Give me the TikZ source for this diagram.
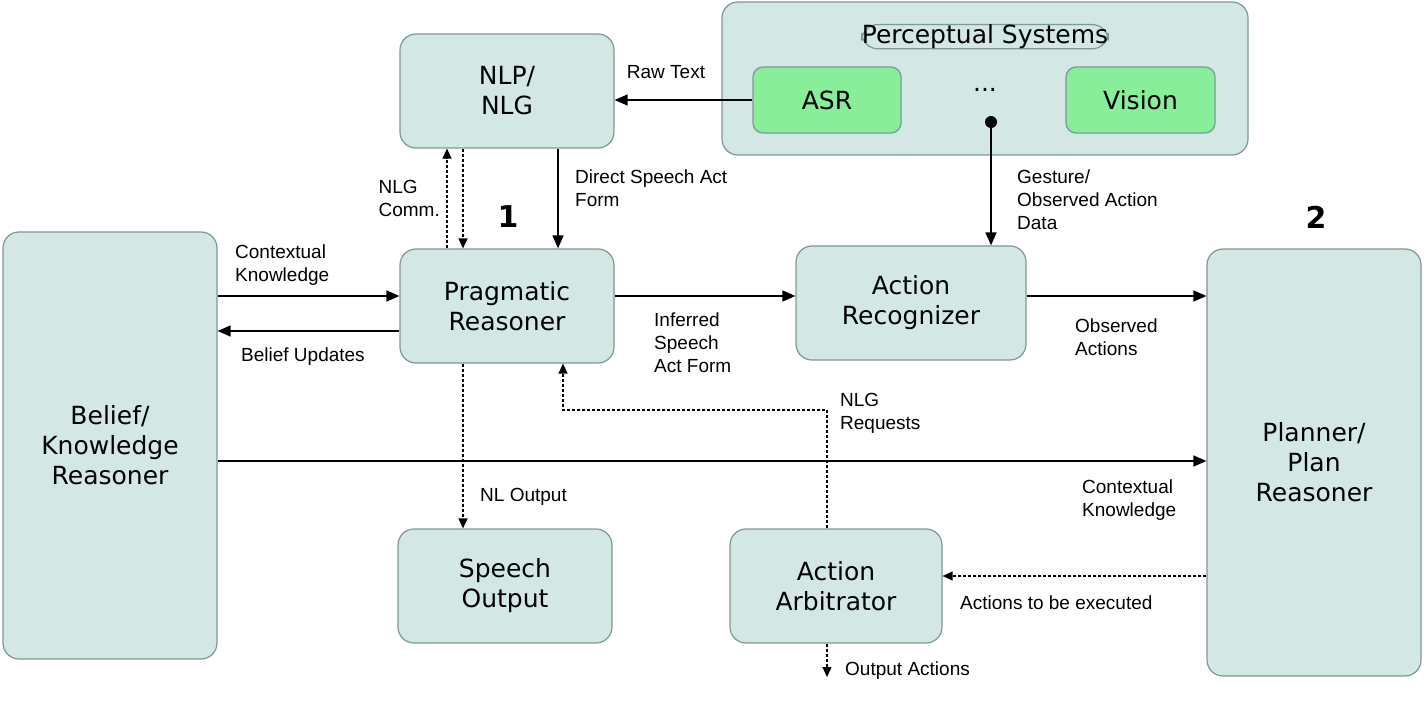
\documentclass[tikz,border=0pt]{standalone}
\usepackage{fontspec}
\setmainfont{Liberation Sans}
\newfontfamily\boxfont{DejaVu Sans}
\usetikzlibrary{arrows.meta}
\definecolor{boxfill}{HTML}{D3E8E4}
\definecolor{boxline}{HTML}{7E9895}
\definecolor{grn}{HTML}{88EE99}
\begin{document}
\begin{tikzpicture}[x=1pt,y=-1pt,
  box/.style={draw=boxline,line width=1.2pt,fill=boxfill,rounded corners=16pt,align=center,
    font=\boxfont\fontsize{25}{30}\selectfont,inner sep=0pt},
  gbox/.style={box,fill=grn,rounded corners=10pt},
  lbl/.style={font=\fontsize{19}{23}\selectfont,align=left,inner sep=0pt},
  arr/.style={line width=1.6pt,-{Triangle[length=13pt,width=11pt]}},
  darr/.style={arr,dash pattern=on 3pt off 2pt,line width=1.3pt,-{Triangle[length=10pt,width=9pt]}}]
\useasboundingbox (0,0) rectangle (1426,703);
\node[box,minimum width=526,minimum height=153] (ps) at (985,78.5) {};
\node[box,anchor=north] (pst) at (985,24) {Perceptual Systems};
\node[gbox,minimum width=148,minimum height=66] (asr) at (827,100) {ASR};
\node[gbox,minimum width=149,minimum height=66] (vis) at (1140.5,100) {Vision};
\node[font=\boxfont\fontsize{25}{30}\selectfont,inner sep=0pt] (dots) at (985,90) {...};
\fill (991,122) circle (6pt);
\coordinate (dot) at (991,122);
\node[box,minimum width=214,minimum height=114] (nlp) at (507,91) {NLP/\\NLG};
\node[box,minimum width=214,minimum height=114] (prag) at (507,306) {Pragmatic\\Reasoner};
\node[box,minimum width=230,minimum height=114] (ar) at (911,303) {Action\\Recognizer};
\node[box,minimum width=214,minimum height=427] (bel) at (110,445.5) {Belief/\\Knowledge\\Reasoner};
\node[box,minimum width=214,minimum height=427] (plan) at (1314,462.5) {Planner/\\Plan\\Reasoner};
\node[box,minimum width=214,minimum height=114] (so) at (505,586) {Speech\\Output};
\node[box,minimum width=212,minimum height=114] (aa) at (836,586) {Action\\Arbitrator};
\node[font=\boxfont\bfseries\fontsize{30}{36}\selectfont] (n1) at (508,217) {1};
\node[font=\boxfont\bfseries\fontsize{30}{36}\selectfont] (n2) at (1316,217) {2};
% arrows
\draw[arr] (asr.west) -- (nlp.east |- asr.west);
\node[lbl] at (666,72) {Raw Text};
\draw[darr] (prag.north -| 447,0) -- (nlp.south -| 447,0);
\draw[darr] (nlp.south -| 463,0) -- (prag.north -| 463,0);
\node[lbl,anchor=east] at (440,198) {NLG\\Comm.};
\draw[arr] (nlp.south -| 558,0) -- (prag.north -| 558,0);
\node[lbl,anchor=west] at (575,188) {Direct Speech Act\\Form};
\draw[arr] (dot) -- (ar.north -| dot);
\node[lbl,anchor=west] at (1017,200) {Gesture/\\Observed Action\\Data};
\draw[arr] (bel.east |- 0,296) -- (prag.west |- 0,296);
\node[lbl,anchor=west] at (235,265) {Contextual\\Knowledge};
\draw[arr] (prag.west |- 0,331) -- (bel.east |- 0,331);
\node[lbl,anchor=west] at (241,357) {Belief Updates};
\draw[arr] (prag.east |- 0,296) -- (ar.west |- 0,296);
\node[lbl,anchor=west] at (654,343) {Inferred\\Speech\\Act Form};
\draw[arr] (ar.east |- 0,296) -- (plan.west |- 0,296);
\node[lbl,anchor=west] at (1075,337) {Observed\\Actions};
\draw[arr] (bel.east |- 0,461) -- (plan.west |- 0,461);
\node[lbl,anchor=west] at (1082,500) {Contextual\\Knowledge};
\draw[darr] (prag.south -| 463,0) -- (so.north -| 463,0);
\node[lbl,anchor=west] at (480,497) {NL Output};
\draw[darr] (plan.west |- 0,576) -- (aa.east |- 0,576);
\node[lbl,anchor=west] at (960,603) {Actions to be executed};
\draw[darr] (aa.north -| 827,0) -- (827,410) -- (563,410) -- (prag.south -| 563,0);
\node[lbl,anchor=west] at (840,413) {NLG\\Requests};
\coordinate (out) at (827,677);
\draw[darr] (aa.south -| 827,0) -- (out);
\node[lbl,anchor=west] at (845,671) {Output Actions};
\end{tikzpicture}
\end{document}
